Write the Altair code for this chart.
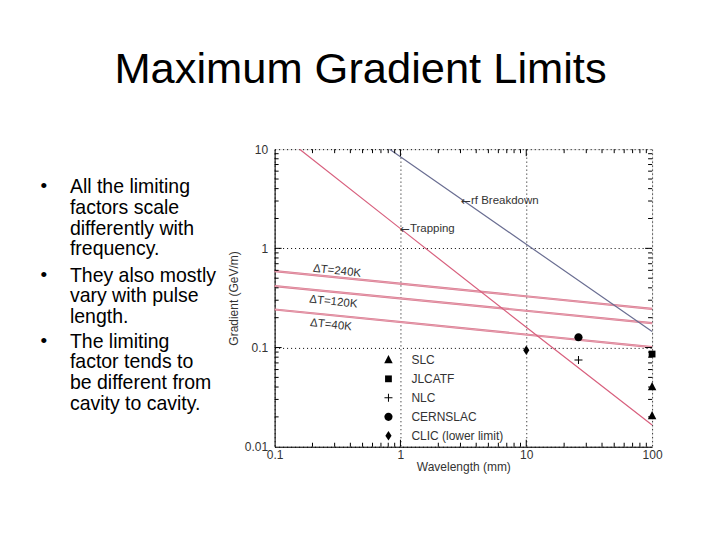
import altair as alt
import pandas as pd

# ---------------- data ----------------
rf_x = [0.82, 10, 100]
rf_y = [10, 1.1, 0.145]
trap_x = [0.158, 1, 10, 100]
trap_y = [10, 1.58, 0.16, 0.0166]
dt240_x = [0.1, 100]
dt240_y = [0.59, 0.245]
dt120_x = [0.1, 100]
dt120_y = [0.417, 0.176]
dt40_x = [0.1, 100]
dt40_y = [0.242, 0.101]

machines = ["SLC", "SLC", "JLCATF", "NLC", "CERNSLAC", "CLIC (lower limit)"]
mach_x = [100, 100, 100, 26, 26, 10]
mach_y = [0.0403, 0.0205, 0.086, 0.075, 0.127, 0.094]
legend_order = ["SLC", "JLCATF", "NLC", "CERNSLAC", "CLIC (lower limit)"]

x_ticks = [0.1, 1, 10, 100]
y_ticks = [0.01, 0.1, 1, 10]

line_labels = ["rf Breakdown", "Trapping"]
line_label_x = [3.03, 0.99]
line_label_y = [3.0, 1.55]
dt_labels = ["\u0394T=240K", "\u0394T=120K", "\u0394T=40K"]
dt_label_x = [0.313, 0.293, 0.28]
dt_label_y = [0.588, 0.287, 0.168]

title_text = "Maximum Gradient Limits"
bullets = [
    ["All the limiting", "factors scale", "differently with", "frequency."],
    ["They also mostly", "vary with pulse", "length."],
    ["The limiting", "factor tends to", "be different from", "cavity to cavity."],
]

# ---------------- tables ----------------
rows = []
for name, xs, ys in [("rf", rf_x, rf_y), ("trap", trap_x, trap_y),
                     ("dt240", dt240_x, dt240_y), ("dt120", dt120_x, dt120_y),
                     ("dt40", dt40_x, dt40_y)]:
    for i, (a, b) in enumerate(zip(xs, ys)):
        rows.append({"series": name, "x": a, "y": b, "o": i})
lines_df = pd.DataFrame(rows)
pulse_df = lines_df[lines_df.series.str.startswith("dt")]
other_df = lines_df[~lines_df.series.str.startswith("dt")]

pts_df = pd.DataFrame({"machine": machines, "x": mach_x, "y": mach_y})

minor_x = [m * 10.0 ** e for e in (-1, 0, 1) for m in range(2, 10)]
minor_y = [m * 10.0 ** e for e in (-2, -1, 0) for m in range(2, 10)]
major_x = x_ticks[1:-1]
major_y = y_ticks[1:-1]

W, H = 378, 298
FONT = "Liberation Sans"
GRAY = "#333333"

xscale = alt.Scale(type="log", domain=[0.1, 100])
yscale = alt.Scale(type="log", domain=[0.01, 10])

xaxis = alt.Axis(values=x_ticks, format="~g", grid=True, gridColor="black",
                 gridDash=[1, 3], gridOpacity=1, ticks=False, domainColor="black",
                 labelFlush=False, labelFont=FONT, labelFontSize=12, labelColor=GRAY,
                 labelPadding=3, title="Wavelength (mm)", titleFont=FONT,
                 titleFontSize=12, titleFontWeight="normal", titleColor=GRAY,
                 titlePadding=1)
yaxis = alt.Axis(values=y_ticks, format="~g", grid=True, gridColor="black",
                 gridDash=[1, 3], gridOpacity=1, ticks=False, domainColor="black",
                 labelFlush=False, labelFont=FONT, labelFontSize=12, labelColor=GRAY,
                 labelPadding=7, title="Gradient (GeV/m)", titleFont=FONT,
                 titleFontSize=12, titleFontWeight="normal", titleColor=GRAY,
                 titlePadding=4)

axes_layer = alt.Chart(pts_df).mark_point(opacity=0).encode(
    x=alt.X("x:Q", scale=xscale, axis=xaxis),
    y=alt.Y("y:Q", scale=yscale, axis=yaxis),
)

other_lines = alt.Chart(other_df).mark_line(strokeWidth=1.2).encode(
    x=alt.X("x:Q", scale=xscale),
    y=alt.Y("y:Q", scale=yscale),
    color=alt.Color("series:N", scale=alt.Scale(domain=["rf", "trap"],
                                                 range=["#6a6e92", "#d8607e"]),
                    legend=None),
    order="o:Q",
)
pulse_outer = alt.Chart(pulse_df).mark_line(strokeWidth=2.2, color="#d9788e").encode(
    x=alt.X("x:Q", scale=xscale), y=alt.Y("y:Q", scale=yscale),
    detail="series:N", order="o:Q")
pulse_inner = alt.Chart(pulse_df).mark_line(strokeWidth=0.7, color="#eeb2bf").encode(
    x=alt.X("x:Q", scale=xscale), y=alt.Y("y:Q", scale=yscale),
    detail="series:N", order="o:Q")

shape_range = [
    "M0,-0.95L0.85,0.7L-0.85,0.7Z",
    "M-0.68,-0.68H0.68V0.68H-0.68Z",
    "M-0.8,-0.1H-0.1V-0.8H0.1V-0.1H0.8V0.1H0.1V0.8H-0.1V0.1H-0.8Z",
    "M0.82,0A0.82,0.82 0 1,1 -0.82,0A0.82,0.82 0 1,1 0.82,0Z",
    "M0,-0.95L0.62,0L0,0.95L-0.62,0Z",
]
leg = alt.Legend(title=None, orient="none", legendX=108, legendY=205, padding=0,
                 labelFont=FONT, labelFontSize=12, labelColor=GRAY, rowPadding=7,
                 labelOffset=17, symbolSize=100, symbolFillColor="black",
                 symbolStrokeWidth=0)
points = alt.Chart(pts_df).mark_point(filled=True, color="black", size=100,
                                      strokeWidth=0, opacity=1).encode(
    x=alt.X("x:Q", scale=xscale),
    y=alt.Y("y:Q", scale=yscale),
    shape=alt.Shape("machine:N", scale=alt.Scale(domain=legend_order, range=shape_range),
                    legend=leg),
)

lab_df = pd.DataFrame({"t": line_labels, "x": line_label_x, "y": line_label_y})
arrow_text = alt.Chart(lab_df).mark_text(text="\u2190", align="left", baseline="middle",
                                          font="DejaVu Sans", fontSize=12,
                                          color=GRAY).encode(
    x=alt.X("x:Q", scale=xscale), y=alt.Y("y:Q", scale=yscale))
line_text = alt.Chart(lab_df).mark_text(align="left", baseline="middle", font=FONT,
                                         fontSize=11.5, color=GRAY, dx=10).encode(
    x=alt.X("x:Q", scale=xscale), y=alt.Y("y:Q", scale=yscale), text="t:N")
dt_df = pd.DataFrame({"t": dt_labels, "x": dt_label_x, "y": dt_label_y})
dt_text = alt.Chart(dt_df).mark_text(align="center", baseline="middle", font=FONT,
                                      fontSize=11.5, color=GRAY, angle=6).encode(
    x=alt.X("x:Q", scale=xscale), y=alt.Y("y:Q", scale=yscale), text="t:N")

# inward ticks on all four sides
mx = pd.DataFrame({"v": minor_x})
my = pd.DataFrame({"v": minor_y})
Mx = pd.DataFrame({"v": major_x})
My = pd.DataFrame({"v": major_y})
tick_layers = []
for df, ln in [(mx, 4), (Mx, 7)]:
    tick_layers.append(alt.Chart(df).mark_rule(color="black", strokeWidth=1).encode(
        x=alt.X("v:Q", scale=xscale), y=alt.value(H), y2=alt.value(H - ln)))
    tick_layers.append(alt.Chart(df).mark_rule(color="black", strokeWidth=1).encode(
        x=alt.X("v:Q", scale=xscale), y=alt.value(0), y2=alt.value(ln)))
for df, ln in [(my, 4), (My, 7)]:
    tick_layers.append(alt.Chart(df).mark_rule(color="black", strokeWidth=1).encode(
        y=alt.Y("v:Q", scale=yscale), x=alt.value(0), x2=alt.value(ln)))
    tick_layers.append(alt.Chart(df).mark_rule(color="black", strokeWidth=1).encode(
        y=alt.Y("v:Q", scale=yscale), x=alt.value(W), x2=alt.value(W - ln)))

one = pd.DataFrame({"k": [0]})
title_layer = alt.Chart(one).mark_text(text=title_text, font=FONT, fontSize=43.5,
                                        color="black", align="center",
                                        baseline="alphabetic").encode(
    x=alt.value(86), y=alt.value(-66))

bullet_layers = []
starts = [44.3, 132.7, 198.7]
for lines_, y0 in zip(bullets, starts):
    bullet_layers.append(alt.Chart(one).mark_text(
        text=lines_, font=FONT, fontSize=19.5, color="black", align="left",
        baseline="alphabetic", lineHeight=20.7).encode(
        x=alt.value(-205), y=alt.value(y0)))
    bullet_layers.append(alt.Chart(one).mark_text(
        text="\u2022", font=FONT, fontSize=19, color="black", align="center",
        baseline="alphabetic").encode(x=alt.value(-231), y=alt.value(y0 - 1)))

chart = alt.layer(
    axes_layer, pulse_outer, pulse_inner, other_lines, *tick_layers,
    points, arrow_text, line_text, dt_text, title_layer, *bullet_layers
).properties(
    width=W, height=H,
    autosize=alt.AutoSizeParams(type="none"),
    padding={"left": 267, "top": 141, "right": 60, "bottom": 70},
).configure_view(stroke="black", strokeWidth=1).configure(background="white")

chart.save("out.html", embed_options={"renderer": "svg", "actions": False})
